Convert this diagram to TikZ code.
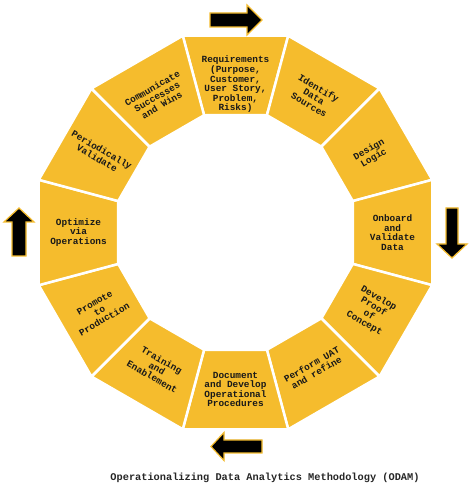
\documentclass[tikz,border=0pt]{standalone}
\usepackage{fontspec}
\setmonofont{Liberation Mono}
\usepackage{xcolor}
\definecolor{ringyellow}{RGB}{245,188,45}
\usetikzlibrary{positioning}
\usetikzlibrary{calc}

\tikzset{
  segment/.style={fill=ringyellow,draw=white,line width=2.5pt,line join=miter},
  segtext/.style={font=\fontsize{9.4}{9.6}\selectfont\ttfamily\bfseries,align=center,text=black!90,inner sep=0pt},
  blockarrow/.style={fill=black,draw=ringyellow,line width=1.2pt,line join=miter}
}

\begin{document}
\begin{tikzpicture}[x=1pt,y=1pt]
\useasboundingbox[fill=white] (0,0) rectangle (474,493);

\coordinate (c) at (235.5,260.5);

\begin{scope}[shift={(c)}]
% outer corners
\coordinate (o1) at (75:203.7);
\coordinate (o2) at (45:203.7);
\coordinate (o3) at (15:203.7);
\coordinate (o4) at (-15:203.7);
\coordinate (o5) at (-45:203.7);
\coordinate (o6) at (-75:203.7);
\coordinate (o7) at (-105:203.7);
\coordinate (o8) at (-135:203.7);
\coordinate (o9) at (-165:203.7);
\coordinate (o10) at (165:203.7);
\coordinate (o11) at (135:203.7);
\coordinate (o12) at (105:203.7);
% inner corners
\coordinate (i1) at (75:121.4);
\coordinate (i2) at (45:121.4);
\coordinate (i3) at (15:121.4);
\coordinate (i4) at (-15:121.4);
\coordinate (i5) at (-45:121.4);
\coordinate (i6) at (-75:121.4);
\coordinate (i7) at (-105:121.4);
\coordinate (i8) at (-135:121.4);
\coordinate (i9) at (-165:121.4);
\coordinate (i10) at (165:121.4);
\coordinate (i11) at (135:121.4);
\coordinate (i12) at (105:121.4);

  \draw[segment] (o12) -- (o1) -- (i1) -- (i12) -- cycle;
  \draw[segment] (o1) -- (o2) -- (i2) -- (i1) -- cycle;
  \draw[segment] (o2) -- (o3) -- (i3) -- (i2) -- cycle;
  \draw[segment] (o3) -- (o4) -- (i4) -- (i3) -- cycle;
  \draw[segment] (o4) -- (o5) -- (i5) -- (i4) -- cycle;
  \draw[segment] (o5) -- (o6) -- (i6) -- (i5) -- cycle;
  \draw[segment] (o6) -- (o7) -- (i7) -- (i6) -- cycle;
  \draw[segment] (o7) -- (o8) -- (i8) -- (i7) -- cycle;
  \draw[segment] (o8) -- (o9) -- (i9) -- (i8) -- cycle;
  \draw[segment] (o9) -- (o10) -- (i10) -- (i9) -- cycle;
  \draw[segment] (o10) -- (o11) -- (i11) -- (i10) -- cycle;
  \draw[segment] (o11) -- (o12) -- (i12) -- (i11) -- cycle;

  \node (requirements) at (0,148) [segtext] {Requirements\\(Purpose,\\Customer,\\User Story,\\Problem,\\Risks)};
  \node (identify) at (60:157) [segtext,rotate=-30] {Identify\\Data\\Sources};
  \node (design) at (30:157) [segtext,rotate=30] {Design\\Logic};
  \node (onboard) at (0:157) [segtext] {Onboard\\and\\Validate\\Data};
  \node (proof) at (-30:157) [segtext,rotate=-30] {Develop\\Proof\\of\\Concept};
  \node (uat) at (-60:157) [segtext,rotate=30] {Perform UAT\\and refine};
  \node (document) at (-90:157) [segtext] {Document\\and Develop\\Operational\\Procedures};
  \node (training) at (-120:157) [segtext,rotate=-30] {Training\\and\\Enablement};
  \node (promote) at (-150:157) [segtext,rotate=30] {Promote\\to\\Production};
  \node (optimize) at (180:157) [segtext] {Optimize\\via\\Operations};
  \node (periodic) at (150:157) [segtext,rotate=-30] {Periodically\\Validate};
  \node (communicate) at (120:157) [segtext,rotate=30] {Communicate\\Successes\\and Wins};
\end{scope}

% direction arrows
\coordinate (atop) at (210,473);
\coordinate (aright) at (452,285);
\coordinate (abottom) at (262,46.5);
\coordinate (aleft) at (19,237);

  \draw[blockarrow,shift={(atop)}] (0,-7) -- (37,-7) -- (37,-15) -- (52,0) -- (37,15) -- (37,7) -- (0,7) -- cycle;
  \draw[blockarrow,shift={(aright)},rotate=-90] (0,-6) -- (36,-6) -- (36,-15) -- (50,0) -- (36,15) -- (36,6) -- (0,6) -- cycle;
  \draw[blockarrow,shift={(abottom)},rotate=180] (0,-6.5) -- (38,-6.5) -- (38,-14) -- (51,0) -- (38,14) -- (38,6.5) -- (0,6.5) -- cycle;
  \draw[blockarrow,shift={(aleft)},rotate=90] (0,-7) -- (34,-7) -- (34,-15) -- (48,0) -- (34,15) -- (34,7) -- (0,7) -- cycle;

  \node (caption) at (265,15) [font=\fontsize{10.3}{12}\selectfont\ttfamily\bfseries,text=black!85] {Operationalizing Data Analytics Methodology (ODAM)};
\end{tikzpicture}
\end{document}
